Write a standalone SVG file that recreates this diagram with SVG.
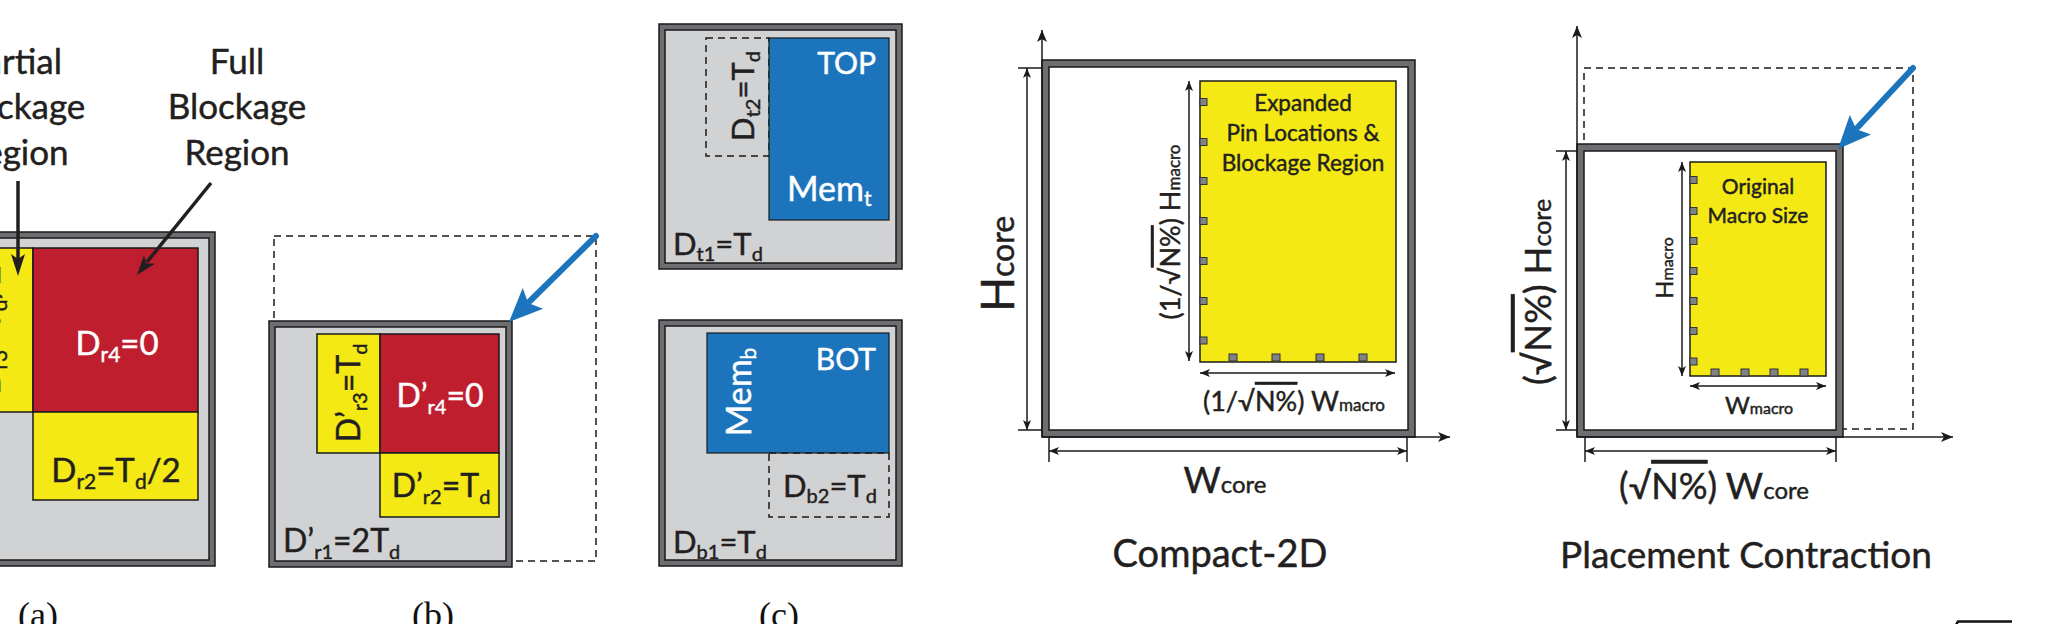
<svg xmlns="http://www.w3.org/2000/svg" width="2071" height="624" viewBox="0 0 2071 624">
<style>
.t{font-family:Lato,"Open Sans","Liberation Sans",sans-serif;fill:#231f20;stroke:#231f20;stroke-width:0.45}
.w{fill:#ffffff;stroke:#ffffff}
.cap{font-family:"Liberation Serif",serif;fill:#111;font-size:36px}
.band{fill:#6d6e71;stroke:#1a1a1a;stroke-width:1.5}
.gray{fill:#d1d2d4;stroke:#1a1a1a;stroke-width:1.5}
.white{fill:#fff;stroke:#1a1a1a;stroke-width:1.5}
.yel{fill:#f4e914;stroke:#1a1a1a;stroke-width:1.5}
.red{fill:#be1e2d;stroke:#1a1a1a;stroke-width:1.5}
.blue{fill:#1c75bc;stroke:#1a1a1a;stroke-width:1.2}
.dash{fill:none;stroke:#1a1a1a;stroke-width:1.5;stroke-dasharray:7 5}
.pin{fill:#808285;stroke:#333;stroke-width:1}
.dim{stroke:#1a1a1a;stroke-width:1.5;fill:none}
.thk{stroke:#231f20;stroke-width:3.5;fill:none}
.bl{stroke:#1c75bc;stroke-width:6;fill:none;stroke-linecap:round}
</style>
<defs>
<marker id="ah" viewBox="0 0 10 8" refX="10" refY="4" markerWidth="10" markerHeight="8" markerUnits="userSpaceOnUse" orient="auto-start-reverse"><path d="M0,0 L10,4 L0,8 L2.5,4 z" fill="#1a1a1a"/></marker>
<marker id="ax" viewBox="0 0 12 10" refX="12" refY="5" markerWidth="12" markerHeight="10" markerUnits="userSpaceOnUse" orient="auto"><path d="M0,0 L12,5 L0,10 L3,5 z" fill="#1a1a1a"/></marker>
</defs>

<!-- Panel (a) -->
<g id="panel-a">
<rect class="band" x="-170" y="232" width="385" height="334"/>
<rect class="gray" x="-164" y="238" width="373" height="322"/>
<rect class="yel" x="-40" y="248" width="73" height="164"/>
<rect class="red" x="33" y="248" width="165" height="164"/>
<rect class="yel" x="33" y="412" width="165" height="88"/>
<text class="t w" x="117" y="355" font-size="33" text-anchor="middle">D<tspan font-size="21" dy="7">r4</tspan><tspan dy="-7">=0</tspan></text>
<text class="t" x="116" y="482" font-size="33" text-anchor="middle">D<tspan font-size="21" dy="7">r2</tspan><tspan dy="-7">=T</tspan><tspan font-size="21" dy="7">d</tspan><tspan dy="-7">/2</tspan></text>
<text class="t" transform="translate(0,330) rotate(-90)" font-size="33" text-anchor="middle">D<tspan font-size="21" dy="7">r3</tspan><tspan dy="-7">=T</tspan><tspan font-size="21" dy="7">d</tspan><tspan dy="-7">/2</tspan></text>
<text class="t" font-size="35" text-anchor="middle"><tspan x="13" y="74">Partial</tspan><tspan x="16" y="119">Blockage</tspan><tspan x="16" y="165">Region</tspan></text>
<text class="t" font-size="35" text-anchor="middle"><tspan x="237" y="74">Full</tspan><tspan x="237" y="119">Blockage</tspan><tspan x="237" y="165">Region</tspan></text>
<text class="cap" x="38" y="627" text-anchor="middle">(a)</text>
</g>

<!-- Panel (b) -->
<g id="panel-b">
<rect class="dash" x="274" y="236" width="322" height="325"/>
<rect class="band" x="269" y="321" width="243" height="246"/>
<rect class="gray" x="275" y="327" width="231" height="234"/>
<rect class="yel" x="317" y="334" width="63" height="119"/>
<rect class="red" x="380" y="334" width="119" height="119"/>
<rect class="yel" x="380" y="453" width="119" height="64"/>
<text class="t w" x="440" y="407" font-size="32" text-anchor="middle">D’<tspan font-size="20" dy="7">r4</tspan><tspan dy="-7">=0</tspan></text>
<text class="t" x="441" y="497" font-size="32" text-anchor="middle">D’<tspan font-size="20" dy="7">r2</tspan><tspan dy="-7">=T</tspan><tspan font-size="20" dy="7">d</tspan></text>
<text class="t" x="283" y="552" font-size="32">D’<tspan font-size="20" dy="7">r1</tspan><tspan dy="-7">=2T</tspan><tspan font-size="20" dy="7">d</tspan></text>
<text class="t" transform="translate(360,393) rotate(-90)" font-size="32" text-anchor="middle">D’<tspan font-size="20" dy="7">r3</tspan><tspan dy="-7">=T</tspan><tspan font-size="20" dy="7">d</tspan></text>
<text class="cap" x="433" y="627" text-anchor="middle">(b)</text>
</g>

<!-- Panel (c) top -->
<g id="panel-c-top">
<rect class="band" x="659" y="24" width="243" height="245"/>
<rect class="gray" x="665" y="30" width="231" height="233"/>
<rect class="dash" x="706" y="38" width="63" height="118"/>
<rect class="blue" x="769" y="38" width="120" height="182"/>
<text class="t w" x="876" y="74" font-size="30" text-anchor="end">TOP</text>
<text class="t w" x="787" y="201" font-size="34">Mem<tspan font-size="21" dy="5">t</tspan></text>
<text class="t" transform="translate(754,96) rotate(-90)" font-size="31" text-anchor="middle">D<tspan font-size="20" dy="6">t2</tspan><tspan dy="-6">=T</tspan><tspan font-size="20" dy="6">d</tspan></text>
<text class="t" x="673" y="255" font-size="31">D<tspan font-size="20" dy="6">t1</tspan><tspan dy="-6">=T</tspan><tspan font-size="20" dy="6">d</tspan></text>
</g>

<!-- Panel (c) bottom -->
<g id="panel-c-bot">
<rect class="band" x="659" y="320" width="243" height="246"/>
<rect class="gray" x="665" y="326" width="231" height="234"/>
<rect class="blue" x="707" y="333" width="182" height="120"/>
<rect class="dash" x="769" y="453" width="120" height="64"/>
<text class="t w" x="876" y="370" font-size="30" text-anchor="end">BOT</text>
<text class="t w" transform="translate(751,392) rotate(-90)" font-size="34" text-anchor="middle">Mem<tspan font-size="21" dy="5">b</tspan></text>
<text class="t" x="783" y="497" font-size="31">D<tspan font-size="20" dy="6">b2</tspan><tspan dy="-6">=T</tspan><tspan font-size="20" dy="6">d</tspan></text>
<text class="t" x="673" y="553" font-size="31">D<tspan font-size="20" dy="6">b1</tspan><tspan dy="-6">=T</tspan><tspan font-size="20" dy="6">d</tspan></text>
<text class="cap" x="779" y="627" text-anchor="middle">(c)</text>
</g>

<!-- Compact-2D -->
<g id="compact-2d">
<rect class="band" x="1042" y="60" width="373" height="377"/>
<rect class="white" x="1049" y="67" width="359" height="363"/>
<rect class="yel" x="1200" y="81" width="196" height="281" stroke-width="2"/>
<rect class="pin" x="1200" y="98.5" width="7" height="7"/>
<rect class="pin" x="1200" y="138.5" width="7" height="7"/>
<rect class="pin" x="1200" y="177.5" width="7" height="7"/>
<rect class="pin" x="1200" y="217.5" width="7" height="7"/>
<rect class="pin" x="1200" y="257.5" width="7" height="7"/>
<rect class="pin" x="1200" y="297.5" width="7" height="7"/>
<rect class="pin" x="1200" y="337" width="7" height="7"/>
<rect class="pin" x="1229" y="354" width="8" height="7"/>
<rect class="pin" x="1272" y="354" width="8" height="7"/>
<rect class="pin" x="1316" y="354" width="8" height="7"/>
<rect class="pin" x="1359" y="354" width="8" height="7"/>
<text class="t" font-size="22.5" text-anchor="middle"><tspan x="1303" y="111">Expanded</tspan><tspan x="1303" y="141">Pin Locations &amp;</tspan><tspan x="1303" y="171">Blockage Region</tspan></text>
<text class="t" transform="translate(1180,232) rotate(-90)" font-size="27" text-anchor="middle">(1/√<tspan text-decoration="overline">N%</tspan>) H<tspan font-size="17">macro</tspan></text>
<text class="t" x="1203" y="411" font-size="27">(1/√<tspan text-decoration="overline">N%</tspan>) W<tspan font-size="17">macro</tspan></text>
<text class="t" transform="translate(1014,264) rotate(-90)" font-size="46" text-anchor="middle">H<tspan font-size="32">core</tspan></text>
<text class="t" x="1225" y="493" font-size="36" text-anchor="middle">W<tspan font-size="24">core</tspan></text>
<text class="t" x="1220" y="567" font-size="38" text-anchor="middle">Compact-2D</text>
</g>

<!-- Placement Contraction -->
<g id="placement-contraction">
<rect class="dash" x="1584" y="68" width="329" height="361"/>
<rect class="band" x="1577" y="144" width="266" height="293"/>
<rect class="white" x="1584" y="151" width="252" height="279"/>
<rect class="yel" x="1690" y="162" width="136" height="214" stroke-width="2"/>
<rect class="pin" x="1690" y="176.5" width="7" height="7"/>
<rect class="pin" x="1690" y="207.5" width="7" height="7"/>
<rect class="pin" x="1690" y="237.5" width="7" height="7"/>
<rect class="pin" x="1690" y="267.5" width="7" height="7"/>
<rect class="pin" x="1690" y="297.5" width="7" height="7"/>
<rect class="pin" x="1690" y="327.5" width="7" height="7"/>
<rect class="pin" x="1690" y="358" width="7" height="7"/>
<rect class="pin" x="1711" y="369" width="8" height="7"/>
<rect class="pin" x="1741" y="369" width="8" height="7"/>
<rect class="pin" x="1770" y="369" width="8" height="7"/>
<rect class="pin" x="1800" y="369" width="8" height="7"/>
<text class="t" font-size="21" text-anchor="middle"><tspan x="1758" y="194">Original</tspan><tspan x="1758" y="223">Macro Size</tspan></text>
<text class="t" transform="translate(1673,268) rotate(-90)" font-size="24" text-anchor="middle">H<tspan font-size="16">macro</tspan></text>
<text class="t" x="1759" y="414" font-size="24" text-anchor="middle">W<tspan font-size="16">macro</tspan></text>
<text class="t" transform="translate(1551,292) rotate(-90)" font-size="37" text-anchor="middle">(√<tspan text-decoration="overline">N%</tspan>) H<tspan font-size="25">core</tspan></text>
<text class="t" x="1714" y="499" font-size="36" text-anchor="middle">(√<tspan text-decoration="overline">N%</tspan>) W<tspan font-size="24">core</tspan></text>
<text class="t" x="1746" y="568" font-size="37" text-anchor="middle">Placement Contraction</text>
</g>

<!-- Connectors -->
<g id="connectors">
<line class="thk" x1="18" y1="181" x2="18" y2="262"/>
<path d="M18,276 L11,254 L18,259 L25,254 z" fill="#231f20"/>
<line class="thk" x1="211" y1="183" x2="147" y2="262"/>
<path d="M137,275 L144,255 L146.4,263.3 L155,263.8 z" fill="#231f20"/>
<line class="bl" x1="596" y1="236" x2="530" y2="301"/>
<path d="M509,322 L522.7,288.1 L528.2,303 L543.1,308.7 z" fill="#1c75bc"/>
<line class="bl" x1="1913" y1="68" x2="1858" y2="127"/>
<path d="M1838,149 L1849.8,115 L1856.3,129.2 L1871,134.6 z" fill="#1c75bc"/>
<line class="dim" x1="1042" y1="437" x2="1042" y2="30" marker-end="url(#ax)"/>
<line class="dim" x1="1042" y1="437" x2="1450" y2="437" marker-end="url(#ax)"/>
<line class="dim" x1="1018" y1="68" x2="1042" y2="68"/>
<line class="dim" x1="1018" y1="430" x2="1042" y2="430"/>
<line class="dim" x1="1027" y1="68" x2="1027" y2="430" marker-start="url(#ah)" marker-end="url(#ah)"/>
<line class="dim" x1="1049" y1="437" x2="1049" y2="462"/>
<line class="dim" x1="1407" y1="437" x2="1407" y2="462"/>
<line class="dim" x1="1049" y1="451" x2="1407" y2="451" marker-start="url(#ah)" marker-end="url(#ah)"/>
<line class="dim" x1="1189" y1="81" x2="1189" y2="361" marker-start="url(#ah)" marker-end="url(#ah)"/>
<line class="dim" x1="1200" y1="373" x2="1395" y2="373" marker-start="url(#ah)" marker-end="url(#ah)"/>
<line class="dim" x1="1577" y1="437" x2="1577" y2="26" marker-end="url(#ax)"/>
<line class="dim" x1="1577" y1="437" x2="1953" y2="437" marker-end="url(#ax)"/>
<line class="dim" x1="1556" y1="151" x2="1577" y2="151"/>
<line class="dim" x1="1556" y1="430" x2="1577" y2="430"/>
<line class="dim" x1="1566" y1="151" x2="1566" y2="430" marker-start="url(#ah)" marker-end="url(#ah)"/>
<line class="dim" x1="1585" y1="437" x2="1585" y2="462"/>
<line class="dim" x1="1836" y1="437" x2="1836" y2="462"/>
<line class="dim" x1="1585" y1="451" x2="1836" y2="451" marker-start="url(#ah)" marker-end="url(#ah)"/>
<line class="dim" x1="1682" y1="162" x2="1682" y2="376" marker-start="url(#ah)" marker-end="url(#ah)"/>
<line class="dim" x1="1690" y1="386" x2="1826" y2="386" marker-start="url(#ah)" marker-end="url(#ah)"/>
</g>
<path d="M1956,625 L1958,621.5 L2012,621.5" fill="none" stroke="#111" stroke-width="2.5"/>
</svg>
